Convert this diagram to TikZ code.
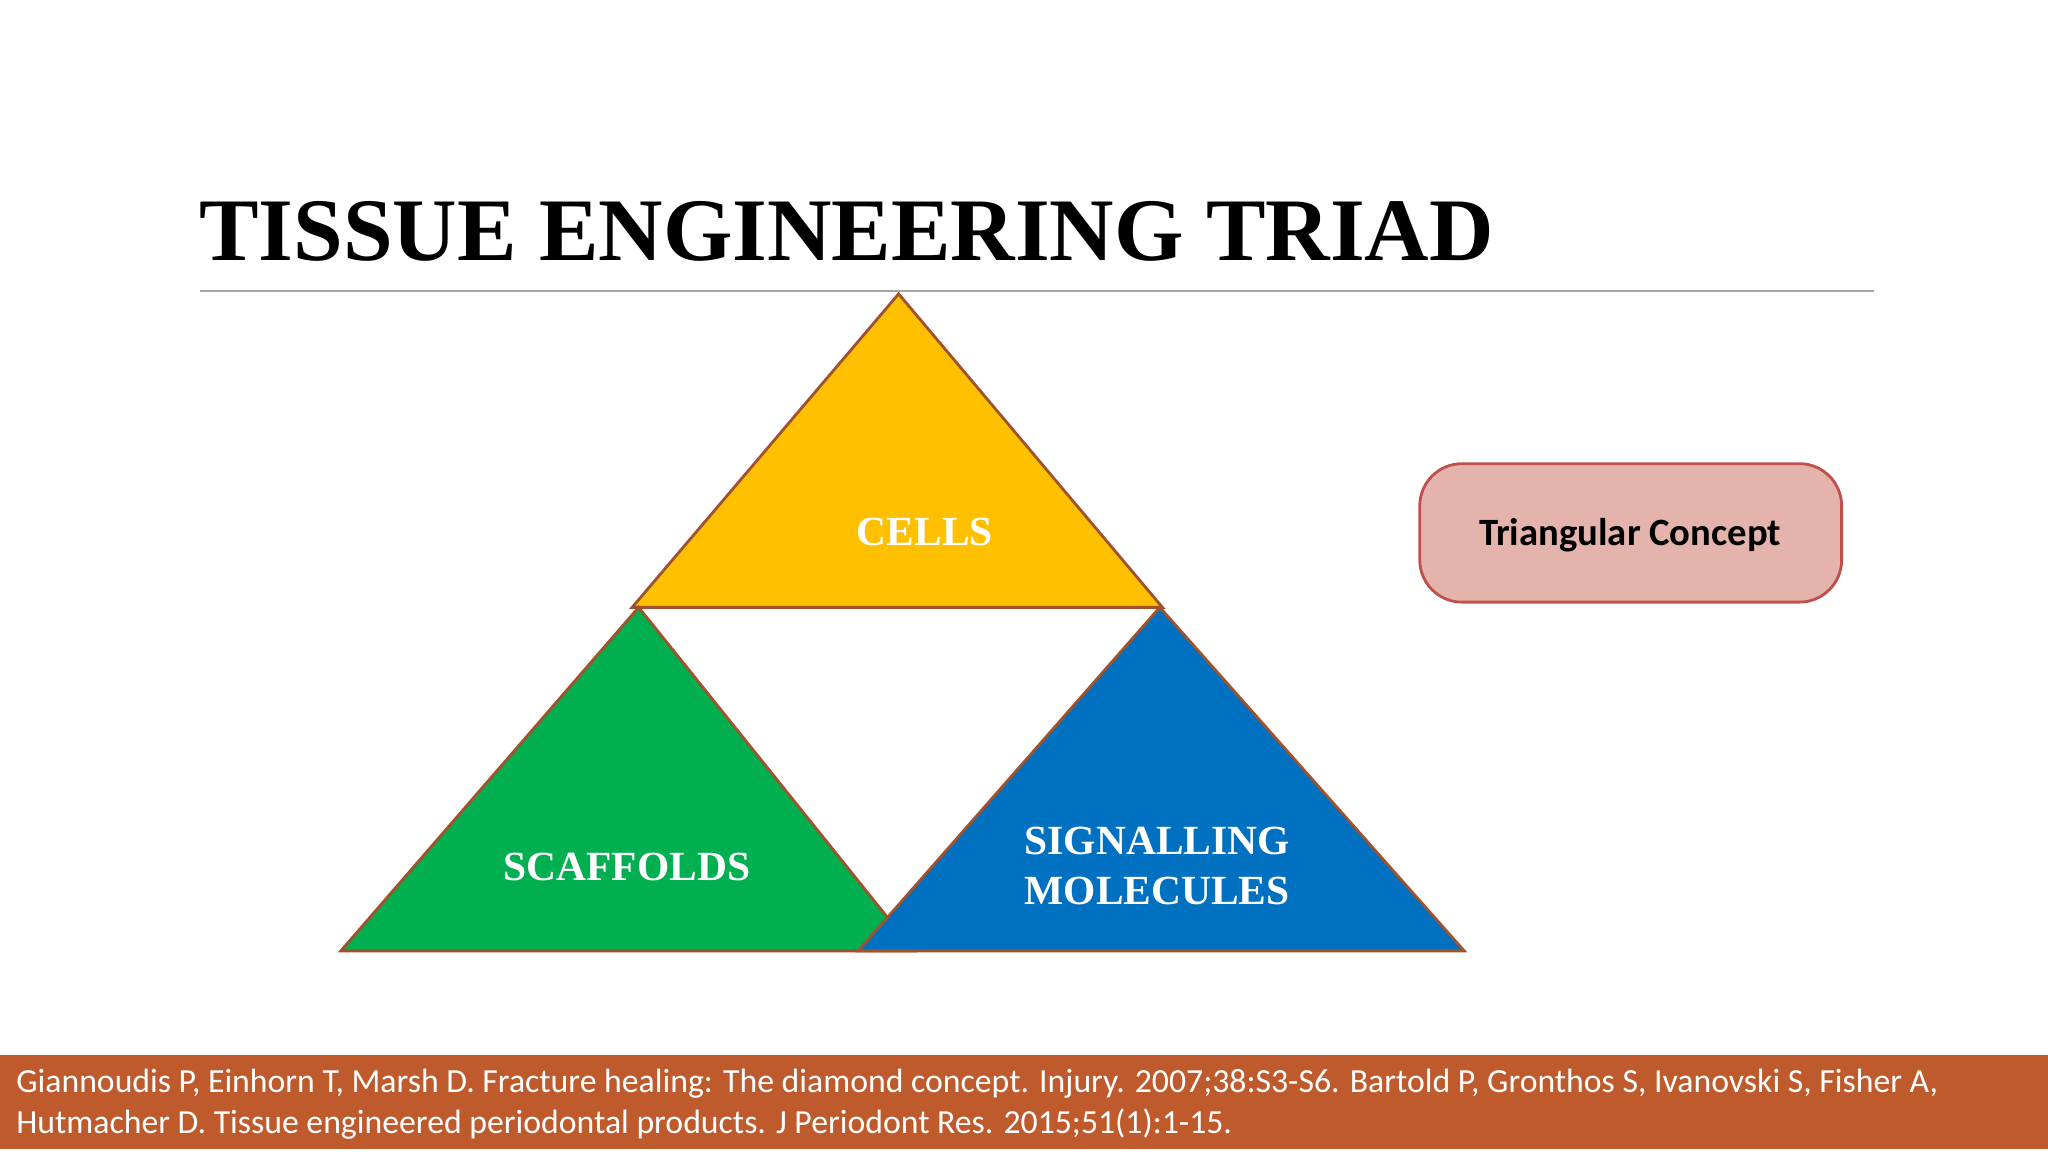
\documentclass[tikz,border=0pt]{standalone}
\usepackage{fontspec}
\setmainfont{Liberation Serif}
\newfontfamily\carl{Carlito}
\definecolor{cyel}{HTML}{FFC000}
\definecolor{cgrn}{HTML}{00B050}
\definecolor{cblu}{HTML}{0070C0}
\definecolor{cedge}{HTML}{A0522D}
\definecolor{cband}{HTML}{BF5A2D}
\definecolor{cbox}{HTML}{E3B3AC}
\definecolor{cboxl}{HTML}{C0504D}
\tikzset{tri/.style={draw=cedge,line width=0.8pt},
lab/.style={text=white,font=\bfseries\fontsize{11.8}{14}\selectfont,align=left}}
\begin{document}
\begin{tikzpicture}[x=0.013061cm,y=-0.013061cm]
\useasboundingbox (0,0) rectangle (1568,882);
\node[anchor=west,inner sep=0,font=\bfseries\fontsize{25.4}{30}\selectfont] (title) at (152,177) {TISSUE ENGINEERING TRIAD};
\coordinate (l1) at (153,223); \coordinate (l2) at (1435,223);
\draw[gray!70,line width=0.6pt] (l1) -- (l2);
\coordinate (ya) at (688,225); \coordinate (yl) at (484,465); \coordinate (yr) at (890,465);
\coordinate (ga) at (489,465); \coordinate (gl) at (261,728); \coordinate (gr) at (700,728);
\coordinate (ba) at (888,465); \coordinate (bl) at (657,728); \coordinate (br) at (1121,728);
\draw[tri,fill=cyel] (ya) -- (yl) -- (yr) -- cycle;
\draw[tri,fill=cgrn] (ga) -- (gl) -- (gr) -- cycle;
\draw[tri,fill=cblu] (ba) -- (bl) -- (br) -- cycle;
\node[lab] (cells) at (708,407) {CELLS};
\node[lab] (scaf) at (480,664) {SCAFFOLDS};
\node[lab,anchor=west,inner sep=0] (sig) at (784,663) {SIGNALLING\\MOLECULES};
\draw[draw=cboxl,fill=cbox,rounded corners=12pt,line width=0.8pt] (1087,355) rectangle (1410,461);
\node[font=\carl\bfseries\fontsize{11}{13}\selectfont] (tc) at (1248,410) {Triangular Concept};
\fill[cband] (0,808) rectangle (1568,880);
\node[anchor=north west,text=white,align=left,inner sep=0,font=\carl\fontsize{9.6}{11.6}\selectfont] (ref) at (12,818)
{Giannoudis P, Einhorn T, Marsh D. Fracture healing: The diamond concept. Injury. 2007;38:S3-S6. Bartold P, Gronthos S, Ivanovski S, Fisher A,\\Hutmacher D. Tissue engineered periodontal products. J Periodont Res. 2015;51(1):1-15.};
\end{tikzpicture}
\end{document}
